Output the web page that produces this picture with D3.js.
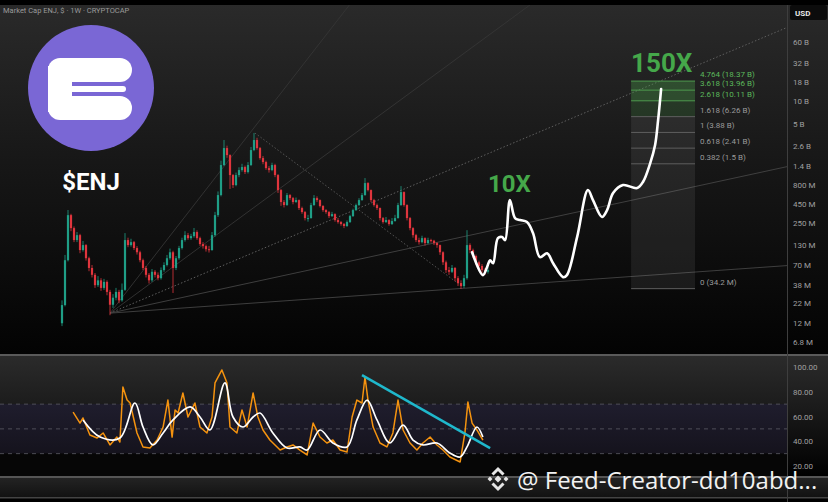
<!DOCTYPE html>
<html><head><meta charset="utf-8">
<script src="https://cdn.jsdelivr.net/npm/d3@7/dist/d3.min.js"></script>
<style>html,body{margin:0;padding:0;background:#000;overflow:hidden}text{font-family:Roboto,"Liberation Sans",sans-serif}</style>
</head><body><svg id="c" width="828" height="502"></svg>
<script>
// ===== DATA (market cap in USD millions, weekly candles) =====
const firstOpen = 12;
const closes = [20.8,81,317,214,149,173,110,128,86,64,
52,38,44,35,42,31,21,26,31,24,
33,149,128,140,117,103,81,64,52,44,
57,52,47,60,70,86,103,64,86,117,
149,173,158,168,190,158,132,124,113,110,
173,317,582,1445,2417,1954,1067,788,1067,1241,
1360,1168,1445,2274,3083,2417,1786,1582,1318,1241,
1445,1067,677,471,430,582,531,471,500,393,
348,290,290,430,531,500,418,369,348,308,
327,273,257,242,228,257,308,369,430,500,
582,837,677,500,430,393,290,257,273,242,
265,290,430,637,430,290,214,173,149,140,
158,136,149,146,136,128,103,76,60,57,
64,47,40.5,37,47,128,110,92,76,68,
60,57,60];
const highs = [24,95,370,330,225,190,180,145,132,90,
70,55,50,47,46,44,33,29,35,33,
40,184,160,155,145,124,108,85,68,55,
62,60,56,65,76,95,115,108,92,125,
160,195,185,180,215,200,165,140,130,125,
190,350,650,1650,3083,2600,2000,1100,1150,1350,
1500,1420,1580,2500,3811,3300,2500,1900,1650,1400,
1550,1500,1100,700,500,620,600,550,540,510,
410,360,320,460,582,560,510,430,380,360,
350,335,290,265,250,270,320,385,450,530,
620,974,860,690,520,450,400,300,300,280,
290,320,460,764,650,440,300,220,180,160,
170,162,160,155,150,140,130,106,80,66,
70,66,50,44,52,201,135,115,96,80,
72,64,66];
const lows = [11,20,78,195,140,140,100,105,80,58,
48,35,36,32,33,28,15.3,19,24,22,
23,32,120,122,110,96,76,60,48,40,
42,48,44,45,57,67,82,30,60,82,
112,142,150,150,160,150,125,115,105,102,
108,165,300,560,1400,1800,700,720,760,1000,
1180,1100,1120,1400,2200,2300,1700,1480,1250,1150,
1200,1000,620,420,400,420,500,440,460,370,
330,270,260,285,420,470,400,350,330,290,
300,260,245,230,214,222,250,300,360,420,
490,570,650,470,410,370,270,245,250,230,
235,260,285,420,410,270,200,160,140,130,
135,126,132,138,128,118,95,70,55,52,
55,43,37,33.8,35,45,100,86,70,62,
55,52,54];

// projected path (hand-drawn white line)
const projWeek = [136.7,140.3,141.7,142.7,143.7,145.3,146.7,147.7,149.3,151,152.7,155,157,159.3,161.7,163.7,167,168.3,171.7,175.3,177,180,181.7,183.7,187,191.7,193.7,196,197.7,198.7,199.7];
const projCap  = [103,51.5,66,81,74,158,163,149,500,290,273,257,184,89,100,74,48.5,51.5,163,677,500,299,369,618,788,720,873,1500,2658,5645,14450];

// fibonacci extension
const fibRatios = ["0","0.382","0.618","1","1.618","2.618","3.618","4.764"];
const fibCaps   = [34.2,1500,2410,3880,6260,10110,13960,18370];
const fibCapLabels = ["34.2 M","1.5 B","2.41 B","3.88 B","6.26 B","10.11 B","13.96 B","18.37 B"];
const fibStartWeek = 189.7, fibEndWeek = 211;

// fan lines from the 2018 low, and the ATH diagonal
const fanAnchor = [16, 16.3];
const fanThrough = [[66,5645],[103.7,5645],[139.3,1840],[139.3,184],[139.3,35.8]];
const fanDotted  = [false,false,true,false,false];
const athDiag = [[64.3,3811],[133.7,35.8]];

// price axis
const priceTicks  = [60000,32000,18000,10000,5000,2600,1400,800,450,250,130,70,38,22,12,6.8];
const priceLabels = ["60 B","32 B","18 B","10 B","5 B","2.6 B","1.4 B","800 M","450 M","250 M","130 M","70 M","38 M","22 M","12 M","6.8 M"];

// RSI and its moving average
const rsiWeek = [3.7,6,7,9.3,11.7,13.7,16,18.3,19.3,20.3,21.7,22.7,25,27,29.3,31.7,33.7,35.3,36.7,37.7,38.7,40.3,42,44.3,46,48.3,50,51,53.3,55,56,58.3,60,61.7,63.7,65.3,67,69.3,72.7,75,77,79.3,81.7,83.7,86,88.3,90.3,92.7,95,96.7,98.3,100,101,102,103.7,106,108.3,110.3,112,113.7,116,118.3,120.3,122.7,125,127,129.3,132.7,134.3,135.3,136.7,138.3,140.3];
const rsiVal  = [63.6,54.7,58.8,45.1,42.6,46.7,37.0,43.4,39.4,83.8,73.3,70.9,46.7,35.4,34.5,41.0,51.5,73.3,43.4,65.3,62.8,79.0,59.6,70.9,51.5,46.7,59.6,87.1,97.6,87.1,51.5,46.7,65.3,51.5,79.0,59.6,49.1,41.0,32.9,35.4,37.0,32.9,28.9,54.7,43.4,38.6,41.0,32.9,31.3,59.6,73.3,70.9,91.9,73.3,51.5,38.6,35.4,46.7,73.3,49.1,38.6,32.9,38.6,43.4,37.0,32.9,27.3,23.2,46.7,71.7,54.7,49.1,41.0];
const maWeek = [7,12.7,19.3,24.3,27,30.3,33.7,37,42.7,46,49.3,54.3,57,60.3,63.7,66,70.3,75,79.3,81.7,86,90.3,95,98.3,101.7,105,109.3,113.7,117,120.3,125,129.3,132.7,135,138.3,140.3];
const maVal  = [57.2,43.4,42.6,70.9,51.5,37.0,46.7,57.2,67.7,59.6,49.1,87.1,59.6,51.5,59.6,62.8,46.7,34.5,35.4,32.9,49.1,38.6,35.4,57.2,73.3,57.2,38.6,53.1,41.0,37.0,38.6,30.5,27.3,35.4,51.5,43.4];
const rsiTrendWeek = [100,142.7], rsiTrendVal = [93.5,34.5];
const rsiTicks = [100,80,60,40,20];
const rsiBands = [70,50,30];

// ===== DRAW =====
const W=828,H=502, AX=787, mainTop=5, mainBot=354, rsiTop=356, rsiBot=476;
const svg=d3.select("#c");
const defs=svg.append("defs");
function grad(id,stops){const g=defs.append("linearGradient").attr("id",id).attr("x1",0).attr("y1",0).attr("x2",0).attr("y2",1);stops.forEach(s=>g.append("stop").attr("offset",s[0]).attr("stop-color",s[1]));}
grad("gMain",[[0,"#2a2a2a"],[0.45,"#171717"],[1,"#030303"]]);
grad("gRsi",[[0,"#2b2b2b"],[0.4,"#1c1c1c"],[1,"#000"]]);
grad("gBand",[[0,"#1f1d2d"],[1,"#15131d"]]);
grad("gFoot",[[0,"#232323"],[1,"#121212"]]);
defs.append("clipPath").attr("id","clipMain").append("rect").attr("x",0).attr("y",mainTop).attr("width",AX).attr("height",mainBot-mainTop);
defs.append("clipPath").attr("id","clipRsi").append("rect").attr("x",0).attr("y",rsiTop).attr("width",AX).attr("height",rsiBot-rsiTop);

svg.append("rect").attr("width",W).attr("height",H).attr("fill","#000");
svg.append("rect").attr("x",0).attr("y",mainTop).attr("width",W).attr("height",mainBot-mainTop).attr("fill","url(#gMain)");
svg.append("rect").attr("x",0).attr("y",mainBot).attr("width",W).attr("height",2).attr("fill","#5a5a5a");
svg.append("rect").attr("x",0).attr("y",rsiTop).attr("width",W).attr("height",rsiBot-rsiTop).attr("fill","url(#gRsi)");

const x=d3.scaleLinear().domain([0,240]).range([62,782]);
const y=d3.scaleLog().domain([6.8,60000]).range([342,42]);
const yr=d3.scaleLinear().domain([20,100]).range([466,367]);

// RSI band
svg.append("rect").attr("x",0).attr("y",yr(70)).attr("width",AX).attr("height",yr(30)-yr(70)).attr("fill","url(#gBand)");
svg.append("rect").attr("x",0).attr("y",yr(30)).attr("width",AX).attr("height",rsiBot-yr(30)).attr("fill","#060606");
svg.append("g").selectAll("line").data(rsiBands).join("line")
 .attr("x1",0).attr("x2",AX).attr("y1",d=>yr(d)).attr("y2",d=>yr(d))
 .attr("stroke","#5a5a66").attr("stroke-width",0.8).attr("stroke-dasharray","4,4");

// footer
svg.append("rect").attr("x",0).attr("y",rsiBot).attr("width",W).attr("height",2).attr("fill","#555");
svg.append("rect").attr("x",0).attr("y",rsiBot+2).attr("width",W).attr("height",19).attr("fill","url(#gFoot)");
svg.append("rect").attr("x",0).attr("y",497).attr("width",W).attr("height",1.5).attr("fill","#444");

// axis separator
svg.append("line").attr("x1",AX+0.5).attr("x2",AX+0.5).attr("y1",mainTop).attr("y2",H).attr("stroke","#3e3e3e");

const main=svg.append("g").attr("clip-path","url(#clipMain)");

// fan lines
function extLine(p0,p1){const X0=x(p0[0]),Y0=y(p0[1]),X1=x(p1[0]),Y1=y(p1[1]);const s=(Y1-Y0)/(X1-X0);return [X0,Y0,AX,Y0+s*(AX-X0)];}
fanThrough.forEach((p,k)=>{const L=extLine(fanAnchor,p);
 main.append("line").attr("x1",L[0]).attr("y1",L[1]).attr("x2",L[2]).attr("y2",L[3])
  .attr("stroke",fanDotted[k]?"#5e5e5e":(k<2?"#363636":"#444")).attr("stroke-width",fanDotted[k]?1:0.9)
  .attr("stroke-dasharray",fanDotted[k]?"1.5,2":null);});
main.append("line").attr("x1",x(athDiag[0][0])).attr("y1",y(athDiag[0][1])).attr("x2",x(athDiag[1][0])).attr("y2",y(athDiag[1][1]))
 .attr("stroke","#5a5a5a").attr("stroke-width",0.9).attr("stroke-dasharray","1.5,2");

// fib box
const fx0=x(fibStartWeek), fx1=x(fibEndWeek);
const fib=fibCaps.map((c,i)=>({c,r:fibRatios[i],lab:fibCapLabels[i],green:i>=5}));
for(let i=0;i<fib.length-1;i++){
 const top=y(fib[i+1].c), bot=y(fib[i].c);
 let fill = i>=5 ? "rgba(80,170,80,0.33)" : (i===4 ? "rgba(70,150,70,0.22)" : "rgba(255,255,255,0.07)");
 main.append("rect").attr("x",fx0).attr("y",top).attr("width",fx1-fx0).attr("height",bot-top).attr("fill",fill);
}
main.selectAll(".fibl").data(fib).join("line").attr("class","fibl")
 .attr("x1",fx0).attr("x2",fx1).attr("y1",d=>y(d.c)).attr("y2",d=>y(d.c))
 .attr("stroke",d=>d.green?"#4f9a4f":"#5e5e5e").attr("stroke-width",1);
main.selectAll(".fibt").data(fib).join("text").attr("class","fibt")
 .attr("x",fx1+5).attr("y",d=>y(d.c)-4).attr("font-size",8)
 .attr("fill",d=>d.green?"#5cb85c":"#9a9a9a").text(d=>`${d.r} (${d.lab})`);

// candles
const candles=closes.map((c,i)=>({i,o:i?closes[i-1]:firstOpen,c,h:highs[i],l:lows[i]}));
const col=d=>d.c>=d.o?"#1f9e86":"#e0353d";
main.append("g").selectAll("line").data(candles).join("line")
 .attr("x1",d=>x(d.i)).attr("x2",d=>x(d.i)).attr("y1",d=>y(d.h)).attr("y2",d=>y(d.l))
 .attr("stroke",col).attr("stroke-width",0.8);
main.append("g").selectAll("rect").data(candles).join("rect")
 .attr("x",d=>x(d.i)-1.1).attr("width",2.2)
 .attr("y",d=>y(Math.max(d.o,d.c))).attr("height",d=>Math.max(1,Math.abs(y(d.o)-y(d.c))))
 .attr("fill",col);

// projection
const proj=projWeek.map((w,i)=>[x(w),y(projCap[i])]);
main.append("path").attr("d",d3.line().curve(d3.curveCatmullRom.alpha(0.5))(proj))
 .attr("fill","none").attr("stroke","#fff").attr("stroke-width",2.6).attr("stroke-linecap","round").attr("stroke-linejoin","round");

// annotations
svg.append("text").attr("x",x(142)).attr("y",y(637)).attr("font-size",24).attr("font-weight",700).attr("fill","#45a84a").text("10X");
svg.append("text").attr("x",fx0).attr("y",y(24150)).attr("font-size",26).attr("font-weight",700).attr("fill","#45a84a").text("150X");

// price axis
const pa=svg.append("g").attr("transform",`translate(${AX+5},0)`)
 .call(d3.axisRight(y).tickValues(priceTicks).tickFormat((d,i)=>priceLabels[i]).tickSize(0));
pa.select(".domain").remove();
pa.selectAll("text").attr("font-size",8).attr("fill","#a0a0a0").attr("x",1).style("font-family","Roboto,sans-serif");

// RSI
const rg=svg.append("g").attr("clip-path","url(#clipRsi)");
rg.append("path").attr("d",d3.line()(rsiWeek.map((w,i)=>[x(w),yr(rsiVal[i])])))
 .attr("fill","none").attr("stroke","#f5930f").attr("stroke-width",1.5).attr("stroke-linejoin","round");
rg.append("path").attr("d",d3.line().curve(d3.curveCatmullRom)(maWeek.map((w,i)=>[x(w),yr(maVal[i])])))
 .attr("fill","none").attr("stroke","#fff").attr("stroke-width",1.7);
rg.append("line").attr("x1",x(rsiTrendWeek[0])).attr("y1",yr(rsiTrendVal[0])).attr("x2",x(rsiTrendWeek[1])).attr("y2",yr(rsiTrendVal[1]))
 .attr("stroke","#1fb8cc").attr("stroke-width",2.5);
const ra=svg.append("g").attr("transform",`translate(${AX+5},0)`)
 .call(d3.axisRight(yr).tickValues(rsiTicks).tickFormat(d3.format(".2f")).tickSize(0));
ra.select(".domain").remove();
ra.selectAll("text").attr("font-size",8).attr("fill","#a0a0a0").attr("x",1).style("font-family","Roboto,sans-serif");

// header
svg.append("text").attr("x",3).attr("y",13).attr("font-size",7.5).attr("fill","#9a9a9a").text("Market Cap ENJ, $ · 1W · CRYPTOCAP");
svg.append("rect").attr("x",790).attr("y",5).attr("width",37).attr("height",15).attr("rx",2).attr("fill","#0c0c0c");
svg.append("text").attr("x",795).attr("y",16).attr("font-size",8).attr("font-weight",700).attr("fill","#e8e8e8").text("USD");

// logo
const lg=svg.append("g");
lg.append("circle").attr("cx",91).attr("cy",88).attr("r",63).attr("fill","#7a67d5");
lg.append("rect").attr("x",48).attr("y",58).attr("width",84).attr("height",24).attr("rx",12).attr("fill","#fff");
lg.append("rect").attr("x",48).attr("y",96).attr("width",84).attr("height",24).attr("rx",12).attr("fill","#fff");
lg.append("rect").attr("x",48).attr("y",86).attr("width",78).attr("height",6).attr("rx",3).attr("fill","#fff");
lg.append("rect").attr("x",48).attr("y",66).attr("width",24).attr("height",46).attr("fill","#fff");
svg.append("text").attr("x",91).attr("y",190).attr("text-anchor","middle").attr("font-size",24).attr("font-weight",700).attr("fill","#fff").text("$ENJ");

// watermark
const wm=svg.append("g").attr("transform","translate(498,479)").attr("fill","#e6e6e6").attr("stroke","#e6e6e6");
wm.append("path").attr("d","M0,-3.5L3.5,0L0,3.5L-3.5,0Z").attr("stroke","none");
wm.append("path").attr("d","M-8,-2.5L-5.5,0L-8,2.5L-10.5,0Z").attr("stroke","none");
wm.append("path").attr("d","M8,-2.5L10.5,0L8,2.5L5.5,0Z").attr("stroke","none");
wm.append("path").attr("d","M-5.5,-4.5L0,-10L5.5,-4.5").attr("fill","none").attr("stroke-width",3);
wm.append("path").attr("d","M-5.5,4.5L0,10L5.5,4.5").attr("fill","none").attr("stroke-width",3);
svg.append("text").attr("x",517).attr("y",489).attr("font-size",24).attr("fill","#f2f2f2")
 .style("font-family","'Open Sans',sans-serif").text("@ Feed-Creator-dd10abd...");
</script></body></html>
